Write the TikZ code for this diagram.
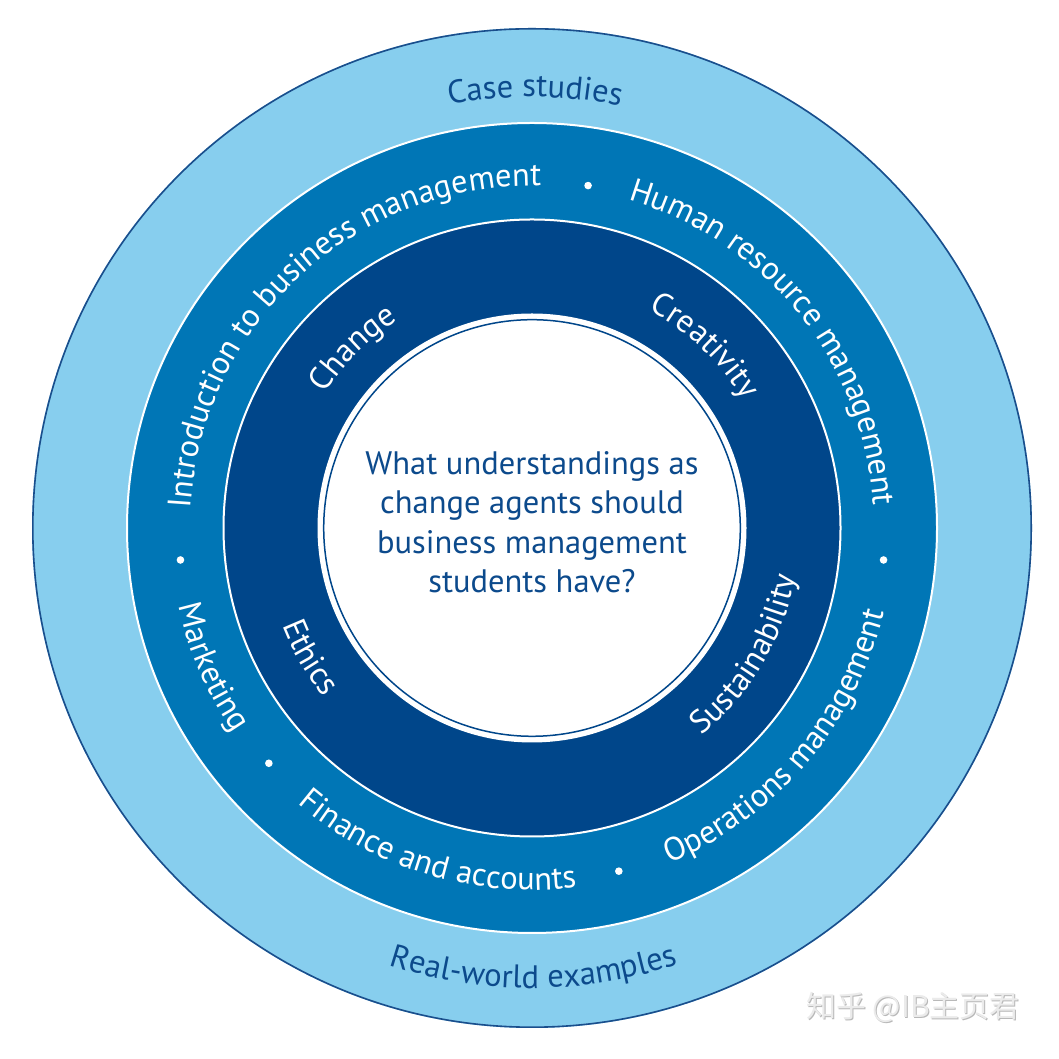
\documentclass[tikz,border=0pt]{standalone}
\usepackage{fontspec}
\setmainfont{PT Sans}
\newfontfamily\cjkfont{Noto Sans CJK SC}
\usetikzlibrary{decorations.text,calc}
\definecolor{ringlight}{HTML}{87CEEE}
\definecolor{ringmid}{HTML}{0076B6}
\definecolor{ringdark}{HTML}{00468A}
\definecolor{txtdark}{HTML}{0C4A8C}
\definecolor{rimline}{HTML}{1A4E8C}
\newcommand{\lblfont}{\fontsize{32.5}{38}\selectfont}
% #1 centre angle, #2 baseline radius, #3 colour, #4 text
\newcommand{\toplabel}[4]{%
  \path[decorate,decoration={text along path,text align=center,text color=#3,
    text={|\lblfont|#4}}]
    ($(C)+(#1+75:#2)$) arc[start angle=#1+75,end angle=#1-75,radius=#2];}
\newcommand{\botlabel}[4]{%
  \path[decorate,decoration={text along path,text align=center,text color=#3,
    text={|\lblfont|#4}}]
    ($(C)+(#1-75:#2)$) arc[start angle=#1-75,end angle=#1+75,radius=#2];}
\begin{document}
\begin{tikzpicture}[x=1pt,y=1pt,
  sepline/.style={draw=white,line width=2pt},
  qline/.style={font=\fontsize{32.5}{39}\selectfont,text=txtdark,anchor=base,inner sep=0pt},
  dotmark/.style={fill=white},
  wmark/.style={font=\cjkfont\fontsize{30}{30}\selectfont}]
\useasboundingbox (0,0) rectangle (1059,1059);
\fill[white] (0,0) rectangle (1059,1059);
\coordinate (C) at (532,531);
% rings
\fill[ringlight] (C) circle[radius=500];
\draw[rimline,line width=1.6pt] (C) circle[radius=499.2];
\fill[ringmid] (C) circle[radius=405];
\draw[sepline] (C) circle[radius=405];
\fill[ringdark] (C) circle[radius=308.5];
\draw[sepline] (C) circle[radius=308.5];
\fill[white] (C) circle[radius=214.5];
\draw[ringdark,line width=1.5pt] (C) circle[radius=208.3];
% outer ring labels
\toplabel{89.6}{431}{txtdark}{Case studies}
\botlabel{-89.8}{460}{txtdark}{Real-world examples}
% middle ring labels
\toplabel{132.6}{342}{white}{Introduction to business management}
\toplabel{38.7}{342}{white}{Human resource management}
\botlabel{-40.6}{362}{white}{Operations management}
\botlabel{-106.6}{362}{white}{Finance and accounts}
\botlabel{-156.5}{362}{white}{Marketing}
% separating dots
\fill[dotmark] ($(C)+(80.7:347)$) circle[radius=3.8];
\fill[dotmark] ($(C)+(-5.2:353)$) circle[radius=3.8];
\fill[dotmark] ($(C)+(-75.8:354)$) circle[radius=3.8];
\fill[dotmark] ($(C)+(-138.2:353)$) circle[radius=3.8];
\fill[dotmark] ($(C)+(-174.8:353)$) circle[radius=3.8];
% inner ring labels
\toplabel{135}{247}{white}{Change}
\toplabel{46.5}{247}{white}{Creativity}
\botlabel{-30.6}{268}{white}{Sustainability}
\botlabel{-149.8}{268}{white}{Ethics}
% central question
\node[qline] (q1) at (532,584) {What understandings as};
\node[qline] (q2) at (532,545) {change agents should};
\node[qline] (q3) at (532,505) {business management};
\node[qline] (q4) at (532,466) {students have?};
% watermark
\node[wmark,text=black!28] (markshadow) at (914,51) {知乎 @IB主页君};
\node[wmark,text=black!8] (mark) at (913,52) {知乎 @IB主页君};
\end{tikzpicture}
\end{document}
